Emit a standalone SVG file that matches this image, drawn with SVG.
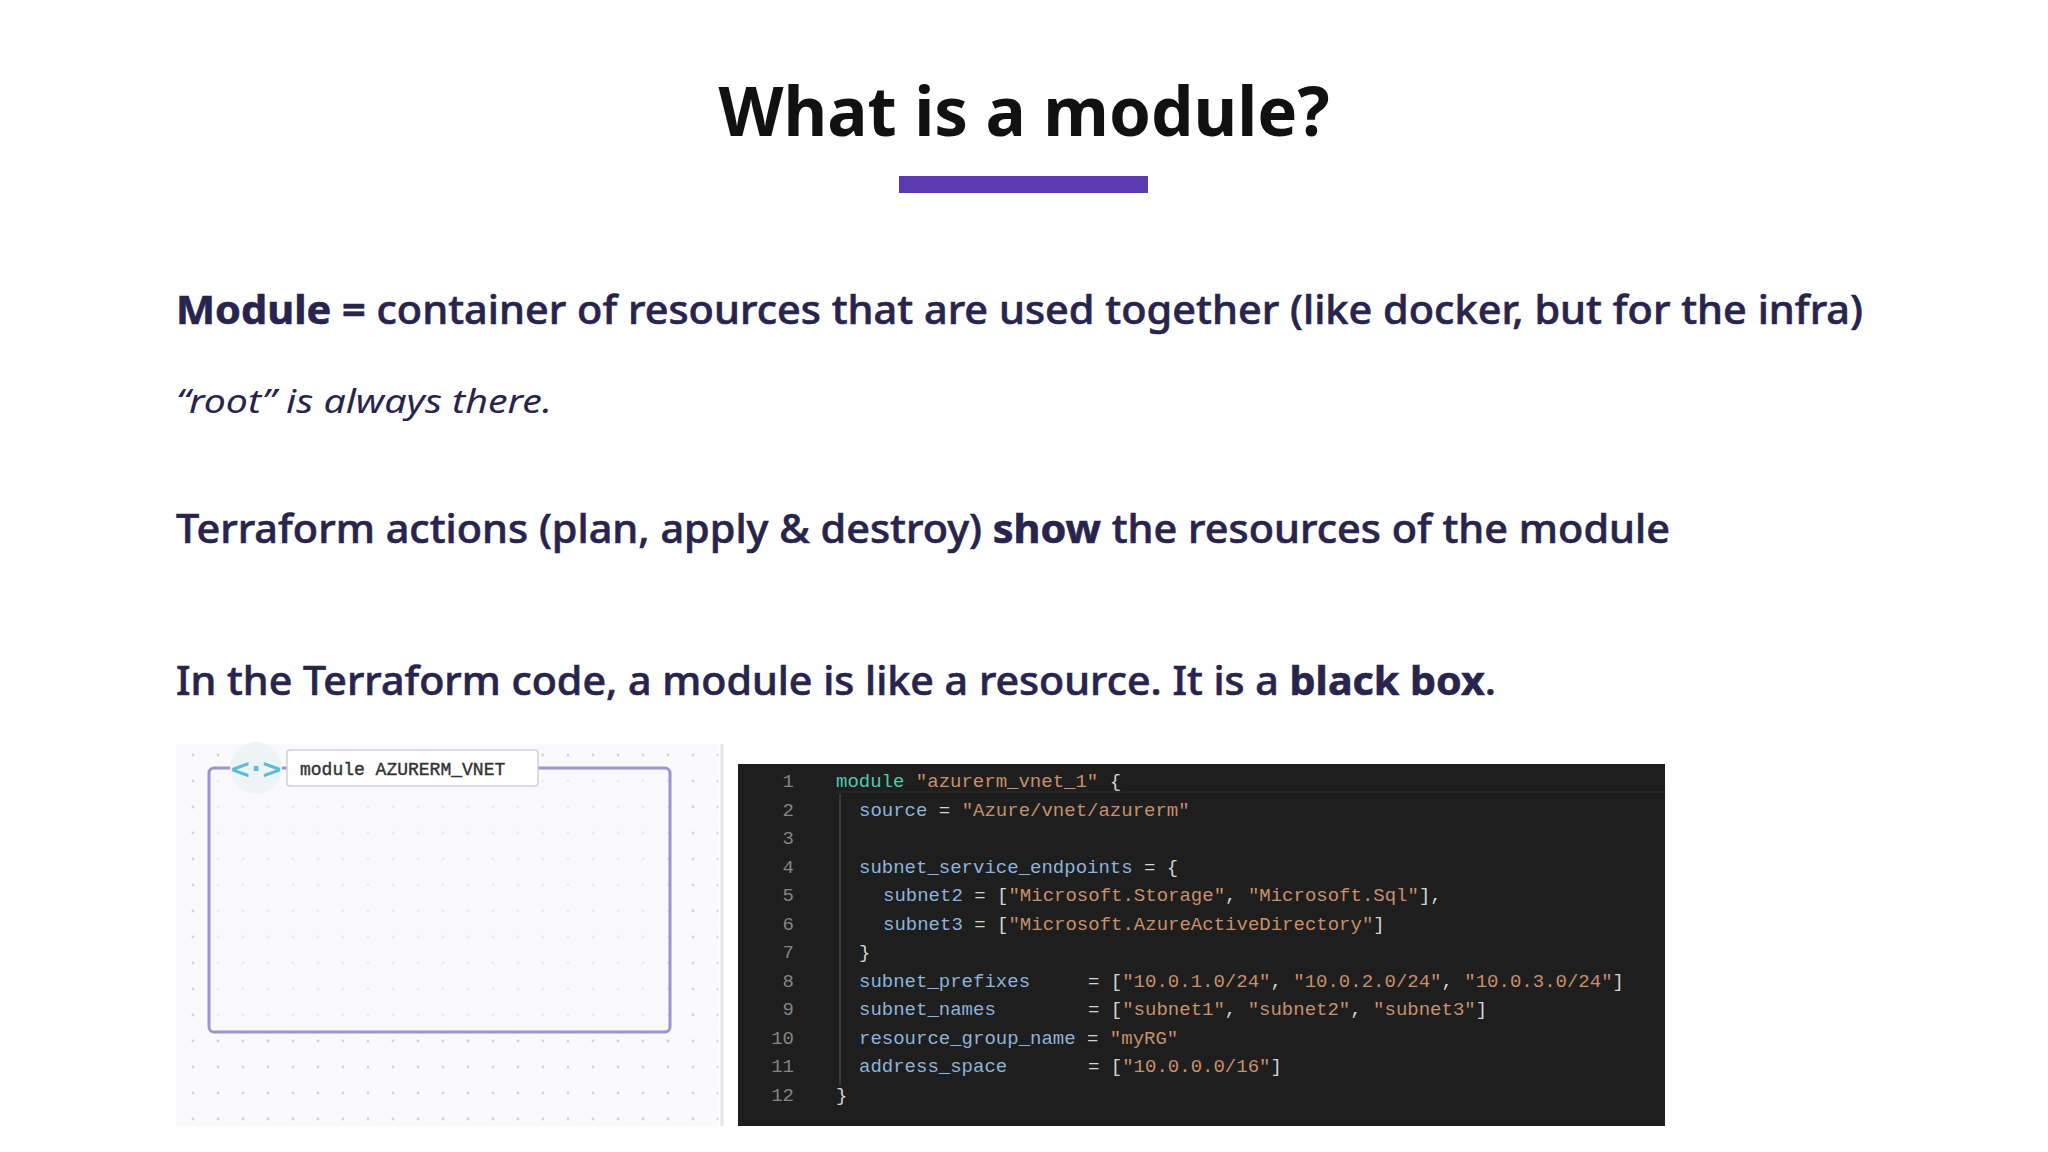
<svg xmlns="http://www.w3.org/2000/svg" width="2048" height="1152" viewBox="0 0 2048 1152">
<defs>
<style>
.t{font-family:"Noto Sans","Liberation Sans",sans-serif;fill:#28244d;font-size:39px;font-weight:500;stroke:#28244d;stroke-width:0.6}
.i{font-family:"Noto Sans","Liberation Sans",sans-serif;fill:#28244d;font-size:33px;font-style:italic}
.b{font-weight:bold}
.c{font-family:"Liberation Mono",monospace;font-size:19px;fill:#d4d4d4}
.n{fill:#858585;text-anchor:end}
.k{fill:#8db4dc}
.s{fill:#c8906c}
.m{fill:#4ec9b0}
</style>
<pattern id="dots" width="25" height="26" patternUnits="userSpaceOnUse" x="190" y="752">
<circle cx="3" cy="3" r="1.4" fill="#d2d2d8"/>
</pattern>
</defs>
<rect width="2048" height="1152" fill="#fff"/>
<text x="1024" y="136" text-anchor="middle" font-family="Noto Sans,Liberation Sans,sans-serif" font-weight="bold" font-size="68" fill="#111" textLength="611" lengthAdjust="spacingAndGlyphs">What is a module?</text>
<rect x="899" y="176" width="249" height="17" fill="#5a3aae"/>
<text class="t" x="176" y="324" textLength="1687" lengthAdjust="spacingAndGlyphs"><tspan class="b">Module =</tspan> container of resources that are used together (like docker, but for the infra)</text>
<text class="i" x="176" y="413" textLength="376" lengthAdjust="spacingAndGlyphs">“root” is always there.</text>
<text class="t" x="176" y="543" textLength="1494" lengthAdjust="spacingAndGlyphs">Terraform actions (plan, apply &amp; destroy) <tspan class="b">show</tspan> the resources of the module</text>
<text class="t" x="176" y="695" textLength="1320" lengthAdjust="spacingAndGlyphs">In the Terraform code, a module is like a resource. It is a <tspan class="b">black box</tspan>.</text>

<g id="module-diagram">
<rect x="176" y="744" width="542" height="382" fill="#fafafc"/>
<rect x="176" y="744" width="542" height="382" fill="url(#dots)"/>
<line x1="722" y1="744" x2="722" y2="1126" stroke="#e6e6e6" stroke-width="3"/>
<rect x="209" y="768" width="461" height="264" rx="5" fill="#f8f8fc" fill-opacity="0.6" stroke="#9a93d4" stroke-width="3"/>
<circle cx="256" cy="768" r="26" fill="#eef4f6"/>
<text x="256" y="778" text-anchor="middle" font-family="DejaVu Sans,sans-serif" font-weight="bold" font-size="26" fill="#5bbcd6">&lt;·&gt;</text>
<rect x="287" y="750" width="251" height="36" rx="3" fill="#fff" stroke="#cfcfd6" stroke-width="1.5"/>
<text x="300" y="775" font-family="Liberation Mono,monospace" font-size="18" fill="#333" stroke="#333" stroke-width="0.4">module AZURERM_VNET</text>
</g>

<g id="code-panel">
<rect x="738" y="764" width="927" height="362" fill="#1e1e1e"/>
<line x1="836" y1="792" x2="1665" y2="792" stroke="#2c2c2c"/>
<line x1="840" y1="794" x2="840" y2="1085" stroke="#444" stroke-width="1.5"/>
<g class="c">
<text class="n" x="794" y="787">1</text>
<text class="n" x="794" y="816">2</text>
<text class="n" x="794" y="844">3</text>
<text class="n" x="794" y="873">4</text>
<text class="n" x="794" y="901">5</text>
<text class="n" x="794" y="930">6</text>
<text class="n" x="794" y="958">7</text>
<text class="n" x="794" y="987">8</text>
<text class="n" x="794" y="1015">9</text>
<text class="n" x="794" y="1044">10</text>
<text class="n" x="794" y="1072">11</text>
<text class="n" x="794" y="1101">12</text>
<text x="836" y="787"><tspan class="m">module</tspan> <tspan class="s">"azurerm_vnet_1"</tspan> {</text>
<text x="859" y="816"><tspan class="k">source</tspan> = <tspan class="s">"Azure/vnet/azurerm"</tspan></text>
<text x="859" y="873"><tspan class="k">subnet_service_endpoints</tspan> = {</text>
<text x="883" y="901"><tspan class="k">subnet2</tspan> = [<tspan class="s">"Microsoft.Storage"</tspan>, <tspan class="s">"Microsoft.Sql"</tspan>],</text>
<text x="883" y="930"><tspan class="k">subnet3</tspan> = [<tspan class="s">"Microsoft.AzureActiveDirectory"</tspan>]</text>
<text x="859" y="958">}</text>
<text x="859" y="987"><tspan class="k">subnet_prefixes</tspan></text>
<text x="1088" y="987">= [<tspan class="s">"10.0.1.0/24"</tspan>, <tspan class="s">"10.0.2.0/24"</tspan>, <tspan class="s">"10.0.3.0/24"</tspan>]</text>
<text x="859" y="1015"><tspan class="k">subnet_names</tspan></text>
<text x="1088" y="1015">= [<tspan class="s">"subnet1"</tspan>, <tspan class="s">"subnet2"</tspan>, <tspan class="s">"subnet3"</tspan>]</text>
<text x="859" y="1044"><tspan class="k">resource_group_name</tspan> = <tspan class="s">"myRG"</tspan></text>
<text x="859" y="1072"><tspan class="k">address_space</tspan></text>
<text x="1088" y="1072">= [<tspan class="s">"10.0.0.0/16"</tspan>]</text>
<text x="836" y="1101">}</text>
</g>
</g>
</svg>
